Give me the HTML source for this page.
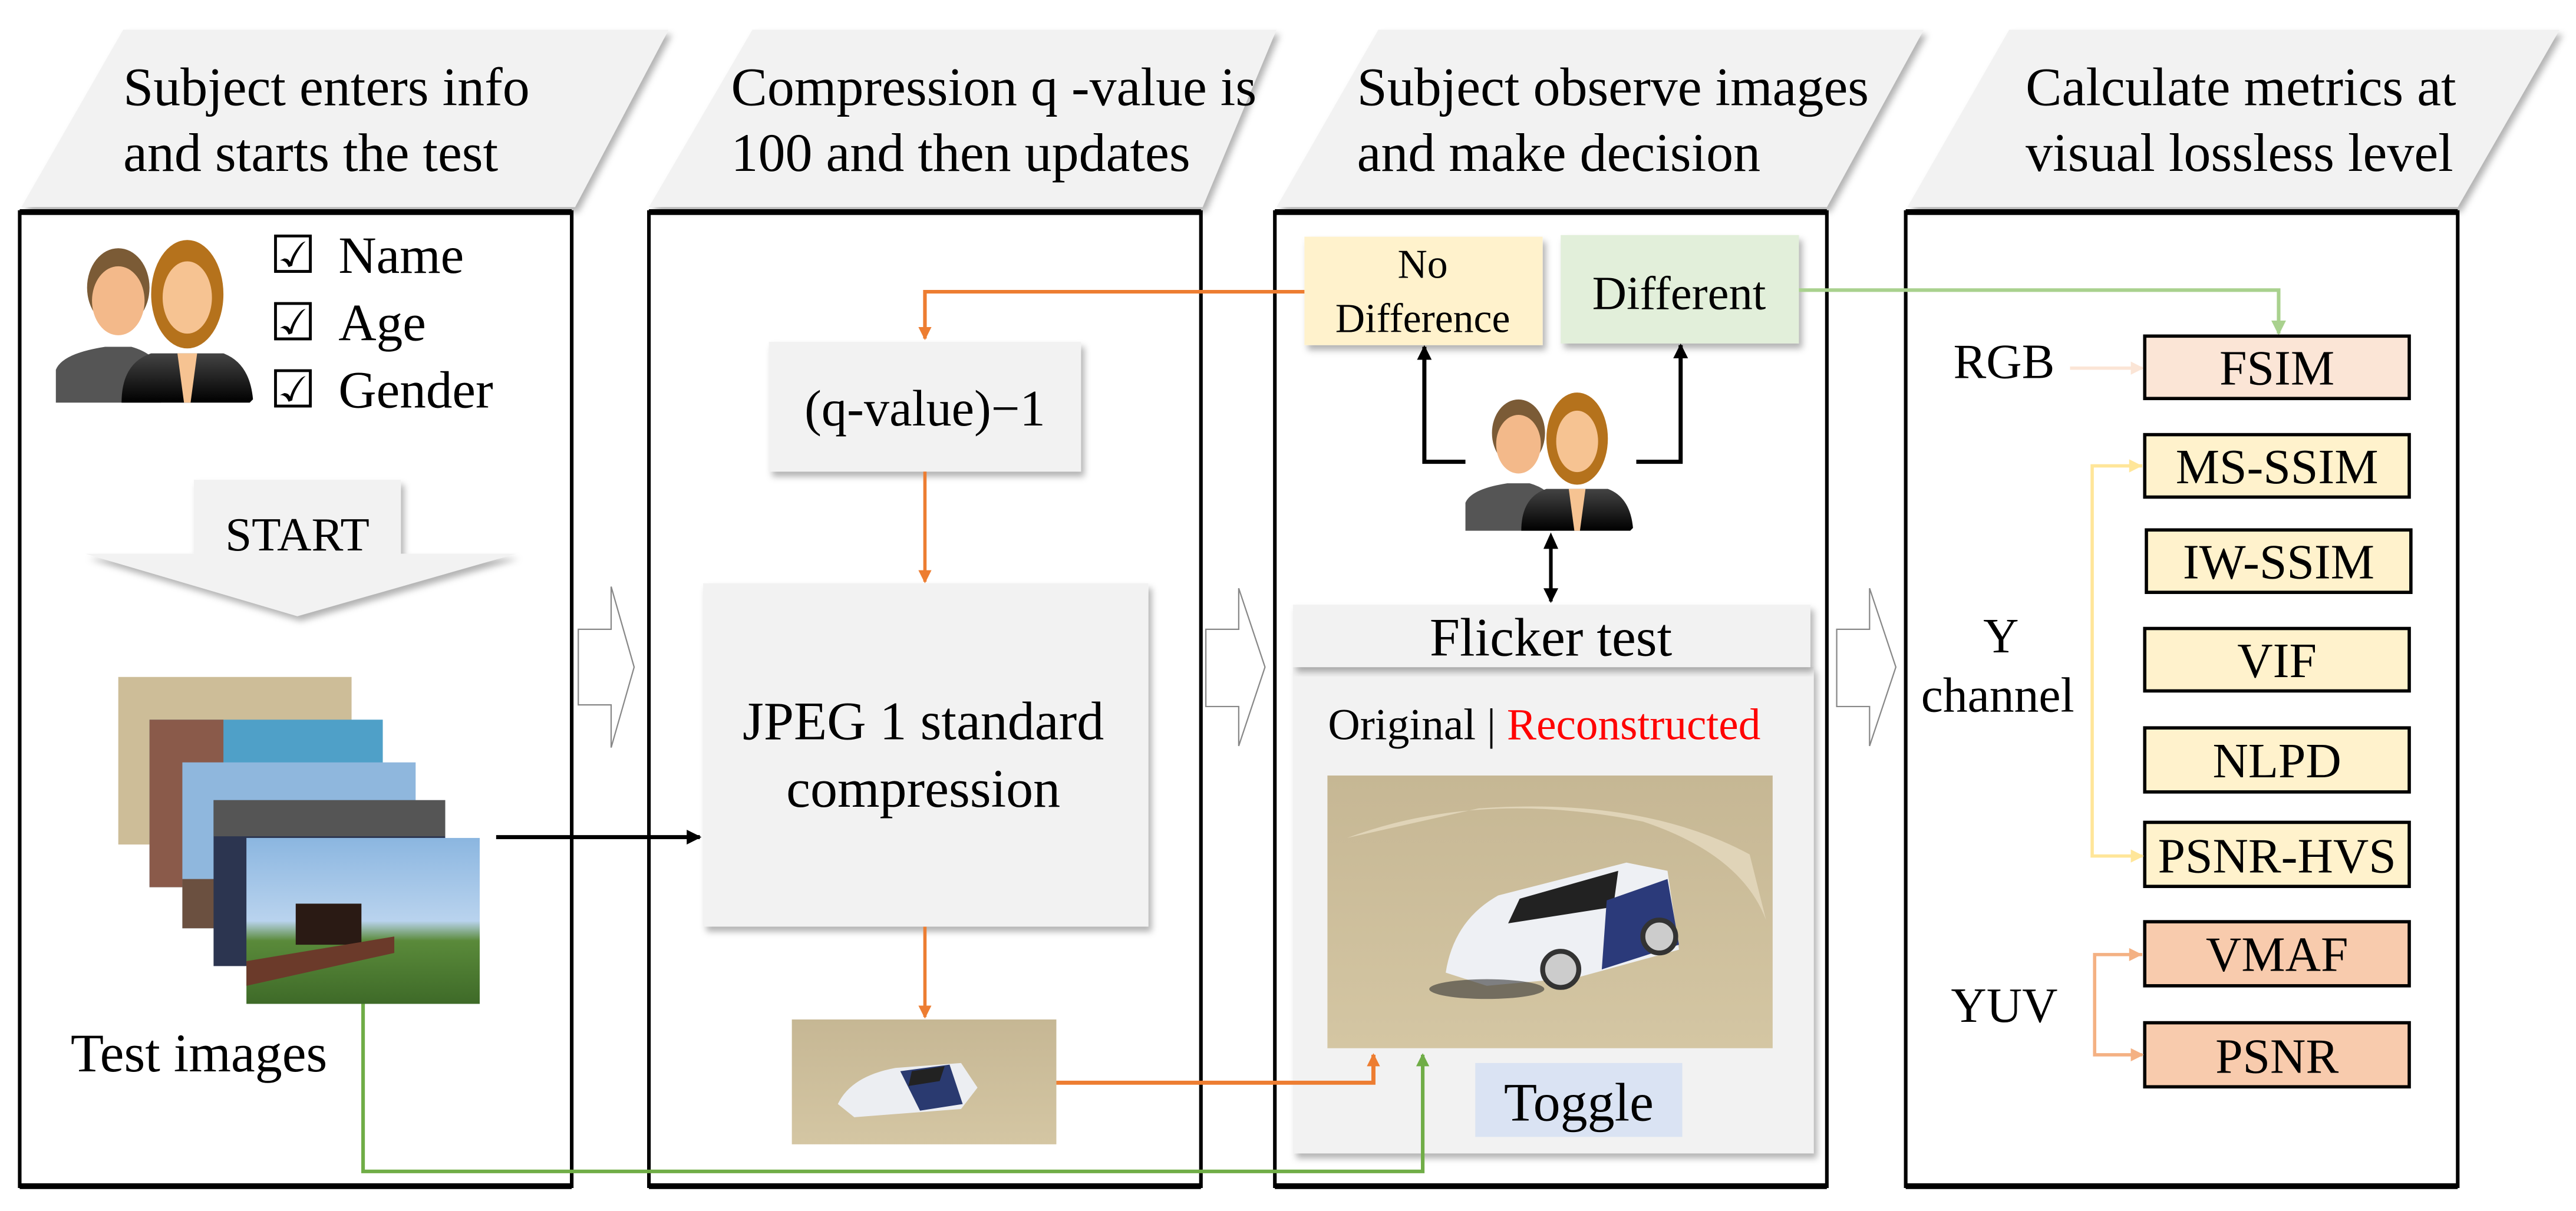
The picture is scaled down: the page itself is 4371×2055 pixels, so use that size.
<!DOCTYPE html>
<html><head><meta charset="utf-8"><style>
html,body{margin:0;padding:0;background:#fff;}
svg{display:block;}
svg text{font-family:"Liberation Serif","Times New Roman","DejaVu Serif",serif;}
</style></head><body>
<svg width="4371" height="2055" viewBox="0 0 1568 737" xmlns="http://www.w3.org/2000/svg">
<defs>
<filter id="sh" x="-10%" y="-10%" width="125%" height="125%"><feDropShadow dx="2" dy="3" stdDeviation="2" flood-color="#000" flood-opacity="0.3"/></filter>
<marker id="ao" markerWidth="8" markerHeight="8" refX="7" refY="4" orient="auto" markerUnits="userSpaceOnUse"><path d="M0,0 L8,4 L0,8 z" fill="#ed7d31"/></marker>
<marker id="ag" markerWidth="8" markerHeight="8" refX="7" refY="4" orient="auto" markerUnits="userSpaceOnUse"><path d="M0,0 L8,4 L0,8 z" fill="#70ad47"/></marker>
<marker id="alg" markerWidth="9" markerHeight="9" refX="8" refY="4.5" orient="auto" markerUnits="userSpaceOnUse"><path d="M0,0 L9,4.5 L0,9 z" fill="#a9d18e"/></marker>
<marker id="ab" markerWidth="9" markerHeight="9" refX="8" refY="4.5" orient="auto" markerUnits="userSpaceOnUse"><path d="M0,0 L9,4.5 L0,9 z" fill="#000"/></marker>
<marker id="ay" markerWidth="8" markerHeight="8" refX="7" refY="4" orient="auto" markerUnits="userSpaceOnUse"><path d="M0,0 L8,4 L0,8 z" fill="#ffe699"/></marker>
<marker id="ap" markerWidth="8" markerHeight="8" refX="7" refY="4" orient="auto" markerUnits="userSpaceOnUse"><path d="M0,0 L8,4 L0,8 z" fill="#f4b183"/></marker>
<marker id="apk" markerWidth="8" markerHeight="8" refX="7" refY="4" orient="auto" markerUnits="userSpaceOnUse"><path d="M0,0 L8,4 L0,8 z" fill="#fbe5d6"/></marker>
<linearGradient id="sand" x1="0" y1="0" x2="0" y2="1"><stop offset="0" stop-color="#c6b794"/><stop offset="1" stop-color="#d4c6a3"/></linearGradient>
<linearGradient id="sky" x1="0" y1="0" x2="0" y2="1"><stop offset="0" stop-color="#8bb6e0"/><stop offset="0.5" stop-color="#b9d3ee"/><stop offset="0.62" stop-color="#5a8a3a"/><stop offset="1" stop-color="#3e6a28"/></linearGradient>
<linearGradient id="body" x1="0" y1="0" x2="0" y2="1"><stop offset="0" stop-color="#444"/><stop offset="1" stop-color="#000"/></linearGradient>
<g id="person">
<ellipse cx="38" cy="30" rx="19" ry="24" fill="#7b5b36"/>
<ellipse cx="38" cy="38" rx="16" ry="21" fill="#f3b98a"/>
<path d="M0,100 L0,80 Q4,70 30,66 L46,66 Q60,70 64,80 L64,100 z" fill="#555"/>
<ellipse cx="80" cy="34" rx="22" ry="33" fill="#b5721c"/>
<ellipse cx="80" cy="36" rx="15" ry="22" fill="#f6c392"/>
<path d="M40,100 Q40,76 58,70 L102,70 Q118,76 120,98 L118,100 z" fill="url(#body)"/>
<path d="M74,70 L86,70 L82,100 L78,100 z" fill="#f6c392"/>
</g>
</defs>

<!-- headers -->
<g fill="#f2f2f2" filter="url(#sh)">
<polygon points="75,18 407,18 350,126 13,126"/>
<polygon points="458,18 777,18 732,126 395,126"/>
<polygon points="839,18 1171,18 1112,126 777,126"/>
<polygon points="1223,18 1558,18 1496,126 1161,126"/>
</g>
<g font-size="33" fill="#000">
<text x="75" y="64">Subject enters info</text><text x="75" y="104">and starts the test</text>
<text x="445" y="64">Compression q -value is</text><text x="445" y="104">100 and then updates</text>
<text x="826" y="64">Subject observe images</text><text x="826" y="104">and make decision</text>
<text x="1233" y="64">Calculate metrics at</text><text x="1233" y="104">visual lossless level</text>
</g>

<!-- panels -->
<g fill="none" stroke="#000" stroke-width="2.2">
<rect x="12" y="129" width="336" height="593"/>
<rect x="395" y="129" width="336" height="593"/>
<rect x="776" y="129" width="336" height="593"/>
<rect x="1160" y="129" width="336" height="593"/>
</g>
<g stroke="#000" stroke-width="3.5"><line x1="12" y1="129" x2="348" y2="129"/><line x1="395" y1="129" x2="731" y2="129"/><line x1="776" y1="129" x2="1112" y2="129"/><line x1="1160" y1="129" x2="1496" y2="129"/>
<line x1="12" y1="722" x2="348" y2="722"/><line x1="395" y1="722" x2="731" y2="722"/><line x1="776" y1="722" x2="1112" y2="722"/><line x1="1160" y1="722" x2="1496" y2="722"/></g>

<!-- chevrons -->
<g fill="#fff" stroke="#888" stroke-width="0.8">
<polygon points="352,383 372,383 372,357 386,406 372,455 372,429 352,429"/>
<polygon points="734,383 754,383 754,358 770,406 754,454 754,430 734,430"/>
<polygon points="1118,383 1138,383 1138,358 1154,406 1138,454 1138,430 1118,430"/>
</g>

<!-- panel 1 -->
<use href="#person" transform="translate(34,145)"/>
<g font-size="32" fill="#000">
<text x="164" y="166">☑</text><text x="206" y="166">Name</text>
<text x="164" y="207">☑</text><text x="206" y="207">Age</text>
<text x="164" y="248">☑</text><text x="206" y="248">Gender</text>
</g>
<g fill="#f2f2f2" filter="url(#sh)"><rect x="118" y="292" width="126" height="46"/><polygon points="52,337 314,337 181,375"/></g>
<text x="181" y="335" font-size="29" text-anchor="middle">START</text>
<rect x="72" y="412" width="142" height="102" fill="#cdbd98"/>
<rect x="91" y="438" width="142" height="102" fill="#4fa0c8"/><rect x="91" y="438" width="45" height="102" fill="#8a5a4a"/>
<rect x="111" y="464" width="142" height="101" fill="#8fb7dd"/><rect x="111" y="535" width="142" height="30" fill="#6b5040"/>
<rect x="130" y="487" width="141" height="101" fill="#2c3550"/><rect x="130" y="487" width="141" height="22" fill="#555"/>
<rect x="150" y="510" width="142" height="101" fill="url(#sky)"/>
<rect x="180" y="550" width="40" height="25" fill="#2a1a14"/>
<path d="M150,585 L240,570 L240,580 L150,600 z" fill="#6b3a2a"/>
<text x="43" y="652" font-size="33">Test images</text>
<line x1="302" y1="509.5" x2="426" y2="509.5" stroke="#000" stroke-width="2.5" marker-end="url(#ab)"/>

<!-- panel 2 -->
<rect x="468" y="208" width="190" height="79" fill="#f2f2f2" filter="url(#sh)"/>
<text x="563" y="259" font-size="31" text-anchor="middle">(q-value)−1</text>
<line x1="563" y1="287" x2="563" y2="354" stroke="#ed7d31" stroke-width="2" marker-end="url(#ao)"/>
<rect x="428" y="355" width="271" height="209" fill="#f2f2f2" filter="url(#sh)"/>
<text x="562" y="450" font-size="33" text-anchor="middle">JPEG 1 standard</text>
<text x="562" y="491" font-size="33" text-anchor="middle">compression</text>
<line x1="563" y1="564" x2="563" y2="619" stroke="#ed7d31" stroke-width="2" marker-end="url(#ao)"/>
<rect x="482" y="620.5" width="161" height="76" fill="url(#sand)"/>
<path d="M510,672 Q518,655 545,650 L585,647 L595,662 L585,675 L520,680 z" fill="#eceef2"/>
<path d="M548,652 L578,648 L586,672 L560,676 z" fill="#2a3a70"/>
<path d="M555,652 L575,649 L572,658 L553,661 z" fill="#222"/>

<!-- panel 3 -->
<rect x="794" y="144" width="145" height="66" fill="#fff2cc" filter="url(#sh)"/>
<text x="866" y="169" font-size="25" text-anchor="middle">No</text>
<text x="866" y="202" font-size="25" text-anchor="middle">Difference</text>
<rect x="950" y="143" width="145" height="66" fill="#e2efda" filter="url(#sh)"/>
<text x="1022" y="188" font-size="29" text-anchor="middle">Different</text>
<polyline points="892,281 867,281 867,211" fill="none" stroke="#000" stroke-width="2.5" marker-end="url(#ab)"/>
<polyline points="996,281 1023,281 1023,210" fill="none" stroke="#000" stroke-width="2.5" marker-end="url(#ab)"/>
<use href="#person" transform="translate(892,238) scale(0.85)"/>
<line x1="944" y1="330" x2="944" y2="366" stroke="#000" stroke-width="2.2" marker-end="url(#ab)"/>
<polygon points="939.5,334 944,324 948.5,334" fill="#000"/>
<rect x="787" y="406" width="317" height="296" fill="#f2f2f2" filter="url(#sh)"/>
<rect x="787" y="368" width="315" height="38" fill="#f2f2f2" filter="url(#sh)"/>
<text x="944" y="399" font-size="33" text-anchor="middle">Flicker test</text>
<text x="940" y="450" font-size="27" text-anchor="middle">Original |  <tspan fill="#ff0000">Reconstructed</tspan></text>
<rect x="808" y="472" width="271" height="166" fill="url(#sand)"/>
<path d="M820,510 Q900,480 1000,500 Q1060,520 1075,560 L1065,520 Q1000,485 900,492 z" fill="#e0d4b8"/>
<path d="M880,592 Q885,560 912,545 L990,525 L1015,530 L1022,578 L960,595 L905,600 z" fill="#eef0f4"/>
<path d="M925,547 L985,530 L982,552 L918,562 z" fill="#222"/>
<path d="M978,548 L1015,535 L1022,575 L975,590 z" fill="#2b3a7a"/>
<ellipse cx="905" cy="602" rx="35" ry="6" fill="#333" opacity="0.6"/>
<circle cx="950" cy="590" r="11" fill="#ccc" stroke="#333" stroke-width="3"/>
<circle cx="1010" cy="570" r="10" fill="#ccc" stroke="#333" stroke-width="3"/>
<rect x="898" y="647" width="126" height="45" fill="#dae3f3"/>
<text x="961" y="682" font-size="33" text-anchor="middle">Toggle</text>

<!-- connectors drawn on top -->
<polyline points="794,177.5 563,177.5 563,206" fill="none" stroke="#ed7d31" stroke-width="2.2" marker-end="url(#ao)"/>
<polyline points="221,611 221,713 866,713 866,642" fill="none" stroke="#70ad47" stroke-width="2.2" marker-end="url(#ag)"/>
<polyline points="643,659 836,659 836,642" fill="none" stroke="#ed7d31" stroke-width="2.5" marker-end="url(#ao)"/>

<!-- panel 4 -->
<polyline points="1095,176.5 1387,176.5 1387,203" fill="none" stroke="#a9d18e" stroke-width="2.2" marker-end="url(#alg)"/>
<text x="1189" y="230" font-size="30">RGB</text>
<line x1="1260" y1="224" x2="1304" y2="224" stroke="#fbe5d6" stroke-width="2" marker-end="url(#apk)"/>
<g stroke="#000" stroke-width="2">
<rect x="1305.5" y="204.5" width="161" height="38" fill="#fbe5d6"/>
<rect x="1305.5" y="264.5" width="161" height="38" fill="#fff2cc"/>
<rect x="1306.5" y="322.5" width="161" height="38" fill="#fff2cc"/>
<rect x="1305.5" y="382.5" width="161" height="38" fill="#fff2cc"/>
<rect x="1305.5" y="443" width="161" height="39" fill="#fff2cc"/>
<rect x="1305.5" y="500.5" width="161" height="39" fill="#fff2cc"/>
<rect x="1305.5" y="561" width="161" height="39" fill="#f8cbad"/>
<rect x="1305.5" y="622.5" width="161" height="39" fill="#f8cbad"/>
</g>
<g font-size="30" text-anchor="middle" fill="#000">
<text x="1386" y="234">FSIM</text><text x="1386" y="294">MS-SSIM</text><text x="1387" y="352">IW-SSIM</text>
<text x="1386" y="412">VIF</text><text x="1386" y="473">NLPD</text><text x="1386" y="531">PSNR-HVS</text>
<text x="1386" y="591">VMAF</text><text x="1386" y="653">PSNR</text>
<text x="1218" y="397">Y</text><text x="1216" y="433">channel</text><text x="1220" y="622">YUV</text>
</g>
<polyline points="1304,283.5 1273.5,283.5 1273.5,521 1304,521" fill="none" stroke="#ffe699" stroke-width="2" marker-end="url(#ay)"/>
<polygon points="1296,279.5 1304,283.5 1296,287.5" fill="#ffe699"/>
<polyline points="1304,581 1275,581 1275,642 1304,642" fill="none" stroke="#f4b183" stroke-width="2" marker-end="url(#ap)"/>
<polygon points="1296,577 1304,581 1296,585" fill="#f4b183"/>
</svg>
</body></html>
